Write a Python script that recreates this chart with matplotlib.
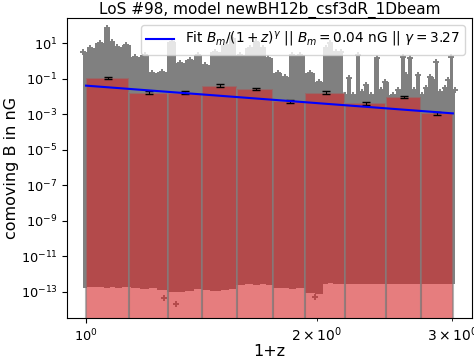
import numpy as np
import matplotlib
matplotlib.use('Agg')
import matplotlib.pyplot as plt
from matplotlib.ticker import NullLocator

# ---- binned means (bars) ----
bin_edges = [1.0, 1.139, 1.278, 1.415, 1.574, 1.752, 1.931, 2.175, 2.459, 2.734, 3.006]
bin_mean = [0.11, 0.016, 0.016, 0.04, 0.026, 5.4e-3, 0.016, 4.0e-3, 9.5e-3, 1.1e-3]
bin_err = [0.02, 0.003, 0.003, 0.007, 0.004, 0.001, 0.003, 0.0008, 0.0015, 0.0002]

# ---- fit parameters ----
B_m = 0.04
gamma = 3.27

# ---- envelope of the dense cloud of B values along the LoS (1+z, log10 B) ----
cloud_z = [0.991, 1.012, 1.043, 1.065, 1.081, 1.098, 1.128, 1.158, 1.194, 1.219,
           1.256, 1.295, 1.326, 1.366, 1.400, 1.429, 1.473, 1.522, 1.545, 1.588,
           1.636, 1.666, 1.701, 1.727, 1.779, 1.817, 1.856, 1.901, 1.959, 2.013,
           2.056, 2.081, 2.118, 2.150, 2.176, 2.203, 2.229, 2.263, 2.290, 2.318,
           2.353, 2.395, 2.425, 2.454, 2.513, 2.551, 2.590, 2.613, 2.645, 2.677,
           2.710, 2.743, 2.775, 2.809, 2.834, 2.860, 2.894, 2.938, 2.965, 2.991,
           3.027]
cloud_top = [0.49, 0.72, 1.0, 1.85, 1.06, 0.77, 0.89, 0.21, 0.32, -0.69,
             -0.63, 1.06, -0.13, 0.04, 0.32, -0.24, 0.49, 0.89, 1.28, 0.32,
             0.72, 1.06, 0.72, 0.15, -0.69, -0.92, 0.32, 0.32, -0.69, -1.2,
             0.72, 1.0, 0.49, 0.49, -1.93, -0.97, -1.93, 0.32, -1.76, -1.37,
             -1.93, 0.15, -1.65, -1.2, -1.93, -1.65, 0.21, -0.8, 0.15, -1.65,
             -0.8, -1.93, -1.54, -0.92, -1.08, -0.07, -1.76, -1.54, -1.08, 0.21,
             -1.65]
cloud_low = [-12.8, -12.75, -12.72, -12.78, -12.75, -12.8, -12.75, -12.8, -12.85, -12.8,
             -12.9, -13.05, -13.0, -12.95, -12.85, -12.9, -12.95, -12.9, -12.85, -12.65,
             -12.6, -12.65, -12.6, -12.65, -12.8, -12.8, -12.85, -12.8, -13.1, -13.15,
             -12.55, -12.5, -12.55, -12.55, -12.55, -12.55, -12.6, -12.6, -12.55, -12.55,
             -12.6, -12.6, -12.6, -12.6, -12.6, -12.6, -12.55, -12.6, -12.6, -12.6,
             -12.6, -12.6, -12.6, -12.55, -12.55, -12.6, -12.6, -12.55, -12.55, -12.6,
             -12.6]

# a few isolated low points
low_z = [1.264, 1.310, 1.990]
low_B = [10**-13.37, 10**-13.7, 10**-13.3]

fig = plt.figure(figsize=(4.74, 3.61), dpi=100)
ax = fig.add_axes([0.1414, 0.119, 0.8536, 0.831])
ax.set_xscale('log')
ax.set_yscale('log')

cz = np.array(cloud_z)
ax.fill_between(cz, 10.0**np.array(cloud_low), 10.0**np.array(cloud_top),
                step='mid', color='gray', lw=0, zorder=1)
ax.scatter(cz, 10.0**np.array(cloud_top), marker='+', color='gray', s=25, lw=1.4, zorder=1)
ax.scatter(low_z, low_B, marker='+', color='gray', s=25, lw=1.4, zorder=1)

edges = np.array(bin_edges)
ax.bar(edges[:-1], bin_mean, width=np.diff(edges), bottom=1e-20, align='edge',
       color='C3', alpha=0.6, edgecolor='gray', lw=1.5, zorder=2)
centers = 0.5 * (edges[:-1] + edges[1:])
ax.errorbar(centers, bin_mean, yerr=bin_err, fmt='none', ecolor='black',
            capsize=3, lw=0.8, zorder=3)

zfit = np.array([bin_edges[0], bin_edges[-1]])
ax.plot(zfit, B_m / zfit**gamma, color='blue', lw=1.5, zorder=4,
        label=r'Fit $B_m/(1+z)^\gamma$ || $B_m = 0.04$ nG || $\gamma = 3.27$')

ax.set_xlim(0.9445, 3.18)
ax.set_ylim(10**-14.49, 10**2.41)
ax.set_yticks(10.0**np.arange(-13, 2, 2))
ax.yaxis.set_minor_locator(NullLocator())
ax.tick_params(labelsize=9.3)

ax.set_title('LoS #98, model newBH12b_csf3dR_1Dbeam', fontsize=11, pad=3)
ax.set_xlabel('1+z', fontsize=11.5, labelpad=0)
ax.set_ylabel('comoving B in nG', fontsize=11.5, labelpad=1)
ax.legend(loc='upper right', fontsize=9.8)

fig.savefig('out.png', dpi=100)
